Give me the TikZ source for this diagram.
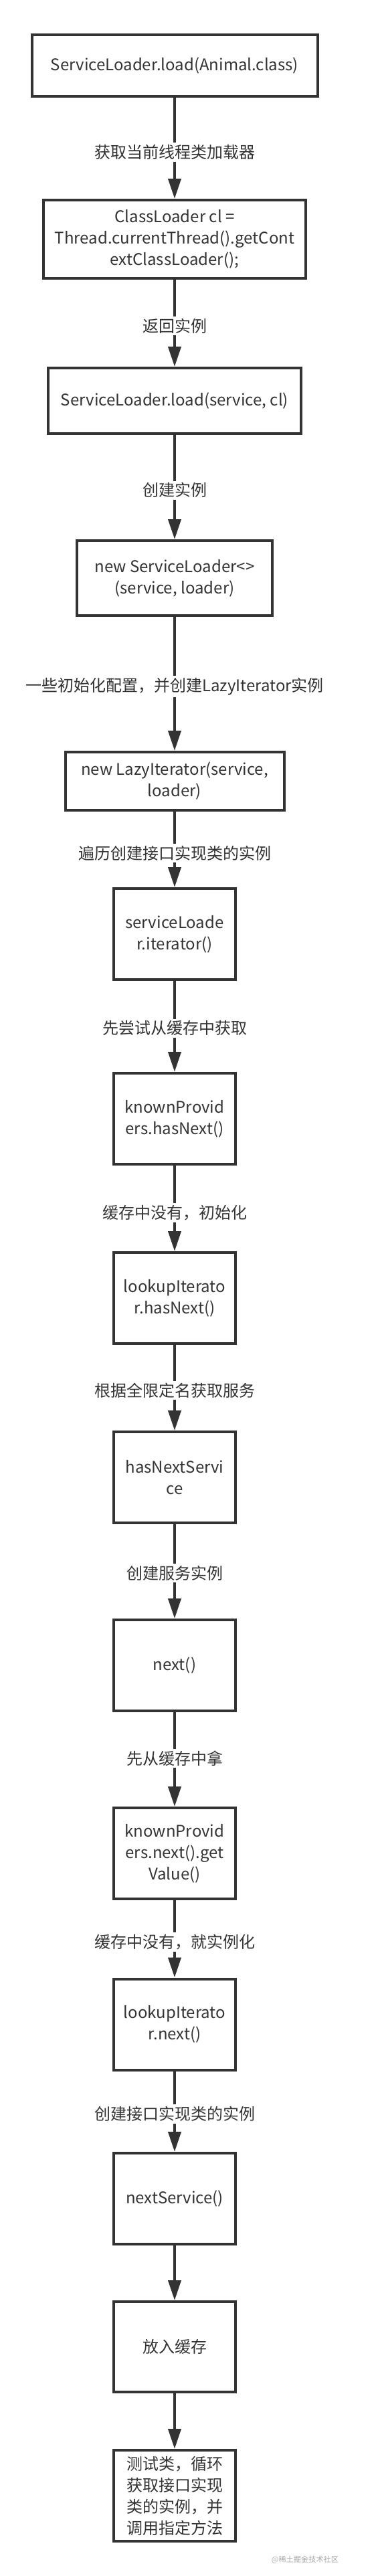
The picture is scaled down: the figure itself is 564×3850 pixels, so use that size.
\documentclass[tikz,border=0pt]{standalone}
\usepackage{fontspec}
\setmainfont{Noto Sans CJK SC}
\usetikzlibrary{arrows.meta}
\definecolor{ink}{HTML}{333333}
\definecolor{wmgray}{HTML}{A8A8A8}

\begin{document}
\begin{tikzpicture}[x=0.5pt, y=-0.5pt,
  box/.style={draw=ink, line width=2pt, text=ink, align=center, inner sep=0pt,
    font=\fontsize{12pt}{16pt}\selectfont},
  small/.style={box, minimum width=91pt, minimum height=68pt},
  lbl/.style={fill=white, text=ink, inner sep=1.5pt, font=\fontsize{12pt}{16pt}\selectfont},
  flow/.style={draw=ink, line width=2pt, -{Triangle[width=9.5pt,length=15pt]}}]
\useasboundingbox (0,0) rectangle (564,3850);

\node[box, minimum width=213.5pt, minimum height=46pt] (load) at (261,98) {ServiceLoader.load(Animal.class)};
\node[box, minimum width=196pt, minimum height=58.5pt] (cl) at (261,357.5) {ClassLoader cl =\\Thread.currentThread().getCont\\extClassLoader();};
\node[box, minimum width=189pt, minimum height=49pt] (loadcl) at (261,599) {ServiceLoader.load(service, cl)};
\node[box, minimum width=146pt, minimum height=56pt] (newsl) at (261,864) {new ServiceLoader<>\\(service, loader)};
\node[box, minimum width=163.5pt, minimum height=43.5pt] (lazy) at (261,1167.5) {new LazyIterator(service,\\loader)};
\node[small] (iter) at (261,1396) {serviceLoade\\r.iterator()};
\node[small] (khas) at (261,1672) {knownProvid\\ers.hasNext()};
\node[small] (lhas) at (261,1940) {lookupIterato\\r.hasNext()};
\node[small] (hns) at (261,2208) {hasNextServi\\ce};
\node[small] (next) at (261,2489) {next()};
\node[small] (knext) at (261,2770) {knownProvid\\ers.next().get\\Value()};
\node[small] (lnext) at (261,3025.5) {lookupIterato\\r.next()};
\node[small] (ns) at (261,3286) {nextService()};
\node[small, minimum height=67.5pt] (cache) at (261,3507.5) {放入缓存};
\node[small] (test) at (261,3730) {测试类，循环\\获取接口实现\\类的实例，并\\调用指定方法};

\draw[flow] (load) -- node[lbl, pos=.54] {获取当前线程类加载器} (cl);
\draw[flow] (cl) -- node[lbl, pos=.53] {返回实例} (loadcl);
\draw[flow] (loadcl) -- node[lbl, pos=.53] {创建实例} (newsl);
\draw[flow] (newsl) -- node[lbl, pos=.52] {一些初始化配置，并创建LazyIterator实例} (lazy);
\draw[flow] (lazy) -- node[lbl, pos=.55] {遍历创建接口实现类的实例} (iter);
\draw[flow] (iter) -- node[lbl, pos=.52] {先尝试从缓存中获取} (khas);
\draw[flow] (khas) -- node[lbl, pos=.55] {缓存中没有，初始化} (lhas);
\draw[flow] (lhas) -- node[lbl, pos=.53] {根据全限定名获取服务} (hns);
\draw[flow] (hns) -- node[lbl, pos=.52] {创建服务实例} (next);
\draw[flow] (next) -- node[lbl, pos=.49] {先从缓存中拿} (knext);
\draw[flow] (knext) -- node[lbl, pos=.54] {缓存中没有，就实例化} (lnext);
\draw[flow] (lnext) -- node[lbl, pos=.53] {创建接口实现类的实例} (ns);
\draw[flow] (ns) -- (cache);
\draw[flow] (cache) -- (test);

\node[text=wmgray, font=\fontsize{5.6pt}{7pt}\selectfont] (wm) at (456,3826) {@稀土掘金技术社区};
\end{tikzpicture}
\end{document}
